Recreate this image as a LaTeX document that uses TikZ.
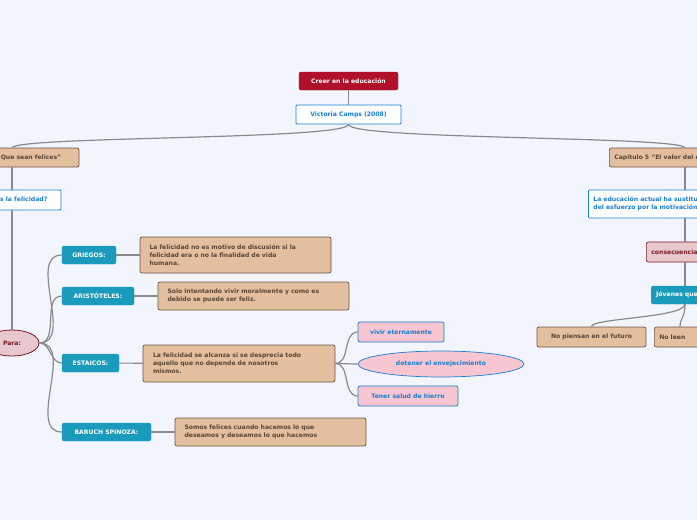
\documentclass[tikz,border=0pt]{standalone}
\usepackage{fontspec}
\setmainfont{DejaVu Sans}
\usetikzlibrary{shapes.geometric}
\hyphenpenalty=10000
\exhyphenpenalty=10000
\definecolor{bg}{HTML}{F2F5FE}
\definecolor{redb}{HTML}{B0102A}
\definecolor{blueb}{HTML}{1A7FD4}
\definecolor{tan}{HTML}{E3BF9F}
\definecolor{tanb}{HTML}{6B5442}
\definecolor{teal}{HTML}{1A9BBB}
\definecolor{pinkf}{HTML}{E8C8CC}
\definecolor{pinkb}{HTML}{7A1A2A}
\definecolor{pink2}{HTML}{F7C6D0}
\definecolor{lin}{HTML}{8A8A8A}
\definecolor{txt}{HTML}{5A4636}
\tikzset{
 base/.style={font=\fontsize{6.1}{8.2}\selectfont\bfseries, inner sep=0pt, rounded corners=2pt, align=center},
 redbox/.style={base, fill=redb, text=white, draw=redb},
 whitebox/.style={base, fill=white, draw=blueb, line width=0.8pt, text=blueb, rounded corners=1pt},
 tanbox/.style={base, fill=tan, draw=tanb, line width=0.7pt, text=txt},
 tealbox/.style={base, fill=teal, draw=teal, text=white},
 pinkbox/.style={base, fill=pink2, draw=blueb, line width=0.7pt, text=blueb},
 cons/.style={base, fill=pinkf, draw=pinkb, line width=0.7pt, text=pinkb},
 conn/.style={draw=lin, line width=1.2pt},
}
\begin{document}
\begin{tikzpicture}[x=1pt,y=-1pt]
\fill[bg] (0,0) rectangle (697,520);
\useasboundingbox (0,0) rectangle (697,520);
\clip (0,0) rectangle (697,520);
\node[redbox, minimum width=99, minimum height=18] (creer) at (348.5,81) {Creer en la educación};
\node[whitebox, minimum width=105, minimum height=19] (vic) at (348.5,114.5) {Victoria Camps (2008)};
\node[tanbox, minimum width=100, minimum height=19] (que) at (29,157.5) {``Que sean felices''};
\node[whitebox, minimum width=98, minimum height=20] (fel) at (12,200) {¿Qué es la felicidad?};
\node[ellipse, base, fill=pinkf, draw=pinkb, line width=0.8pt, text=pinkb, minimum width=54, minimum height=26] (para) at (12,343) {Para:};
\node[tealbox, minimum width=54, minimum height=18] (gri) at (89,255) {GRIEGOS:};
\node[tealbox, minimum width=72, minimum height=18] (ari) at (98,296) {ARISTÓTELES:};
\node[tealbox, minimum width=57, minimum height=18] (est) at (90.5,363) {ESTAICOS:};
\node[tealbox, minimum width=89, minimum height=18] (bar) at (106.5,432) {BARUCH SPINOZA:};
\node[tanbox, minimum width=191, minimum height=36, text width=172, align=left] (t1) at (235.5,255) {La felicidad no es motivo de discusión si la\\ felicidad era o no la finalidad de vida\\ humana.};
\node[tanbox, minimum width=191, minimum height=28, text width=172, align=left] (t2) at (253.5,296) {Solo intentando vivir moralmente y como es\\ debido se puede ser feliz.};
\node[tanbox, minimum width=192, minimum height=37, text width=172, align=left] (t3) at (239,363.5) {La felicidad se alcanza si se desprecia todo\\ aquello que no depende de nosotros\\ mismos.};
\node[tanbox, minimum width=191, minimum height=28, text width=172, align=left] (t4) at (270.5,432) {Somos felices cuando hacemos lo que\\ deseamos y deseamos lo que hacemos};
\node[pinkbox, minimum width=86, minimum height=20] (viv) at (401,332) {vivir eternamente};
\node[ellipse, base, fill=pink2, draw=blueb, line width=0.7pt, text=blueb, minimum width=166, minimum height=26] (det) at (441,364) {detener el envejecimiento};
\node[pinkbox, minimum width=100, minimum height=20] (ten) at (408,396) {Tener salud de hierro};
\node[tanbox, minimum width=150, minimum height=19, anchor=west, text width=140, align=left] (cap) at (609,157.5) {Capitulo 5 ``El valor del esfuerzo''};
\node[whitebox, minimum width=190, minimum height=28, anchor=west, text width=180, align=left] (edu) at (588,204) {La educación actual ha sustituido el valor\\ del esfuerzo por la motivación};
\node[cons, minimum width=90, minimum height=20, anchor=west, text width=80, align=left] (con) at (646,252) {consecuencias};
\node[tealbox, minimum width=100, minimum height=18, anchor=west, text width=90, align=left] (jov) at (651,295) {Jóvenes que};
\node[tanbox, minimum width=109, minimum height=20] (np) at (591.5,337) {No piensan en el futuro};
\node[tanbox, minimum width=70, minimum height=20, anchor=west, text width=60, align=left] (nl) at (654,337) {No leen};
\draw[conn] (creer) -- (vic);
\draw[conn] (vic.south) .. controls (348,140) and (12,136) .. (12,148);
\draw[conn] (vic.south) .. controls (348,140) and (685,136) .. (685,148);
\draw[conn] (12,167) -- (fel.north);
\draw[conn] (fel.south) -- (para.north);
\foreach \c in {gri,ari,est,bar}{\draw[conn] (para.east) to[out=0,in=180] (\c.west);}
\draw[conn] (gri) -- (t1); \draw[conn] (ari) -- (t2); \draw[conn] (est) -- (t3); \draw[conn] (bar) -- (t4);
\foreach \c in {viv,det,ten}{\draw[conn] (t3.east) to[out=0,in=180] (\c.west);}
\draw[conn] (685,167) -- (685,190);
\draw[conn] (685,218) -- (685,242);
\draw[conn] (685,262) -- (685,286);
\draw[conn] (685,304) .. controls (685,318) and (591,318) .. (np.north);
\draw[conn] (685,304) .. controls (685,318) and (680,318) .. (680,327);
\end{tikzpicture}
\end{document}
